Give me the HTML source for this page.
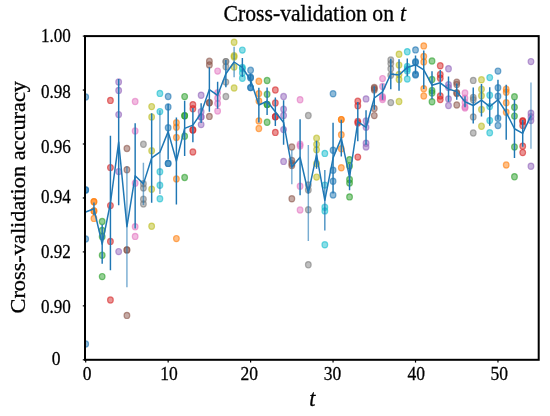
<!DOCTYPE html><html><head><meta charset="utf-8"><style>html,body{margin:0;padding:0;background:#fff;width:550px;height:416px;overflow:hidden}svg{display:block}text{font-family:"Liberation Serif","Times New Roman",serif;fill:#000}</style></head><body>
<svg width="550" height="416" viewBox="0 0 550 416">
<rect width="550" height="416" fill="#fff"/>
<defs><clipPath id="ax"><rect x="85.0" y="36.1" width="453.70000000000005" height="323.7"/></clipPath><clipPath id="ax2"><rect x="86.5" y="36.1" width="452.20000000000005" height="323.7"/></clipPath></defs>
<g clip-path="url(#ax)" fill-opacity="0.5" stroke-opacity="0.6" stroke-width="1.2"><g fill="#1f77b4" stroke="#1f77b4"><ellipse cx="85.69" cy="97.00" rx="2.85" ry="3.1"/><ellipse cx="85.69" cy="190.00" rx="2.85" ry="3.1"/><ellipse cx="85.69" cy="190.00" rx="2.85" ry="3.1"/><ellipse cx="85.69" cy="239.00" rx="2.85" ry="3.1"/><ellipse cx="85.69" cy="344.00" rx="2.85" ry="3.1"/></g><g fill="#ff7f0e" stroke="#ff7f0e"><ellipse cx="93.94" cy="201.70" rx="2.85" ry="3.1"/><ellipse cx="93.94" cy="201.70" rx="2.85" ry="3.1"/><ellipse cx="93.94" cy="211.00" rx="2.85" ry="3.1"/><ellipse cx="93.94" cy="211.00" rx="2.85" ry="3.1"/><ellipse cx="93.94" cy="218.40" rx="2.85" ry="3.1"/></g><g fill="#2ca02c" stroke="#2ca02c"><ellipse cx="102.18" cy="221.50" rx="2.85" ry="3.1"/><ellipse cx="102.18" cy="230.40" rx="2.85" ry="3.1"/><ellipse cx="102.18" cy="236.80" rx="2.85" ry="3.1"/><ellipse cx="102.18" cy="255.30" rx="2.85" ry="3.1"/><ellipse cx="102.18" cy="276.60" rx="2.85" ry="3.1"/></g><g fill="#d62728" stroke="#d62728"><ellipse cx="110.43" cy="100.40" rx="2.85" ry="3.1"/><ellipse cx="110.43" cy="167.60" rx="2.85" ry="3.1"/><ellipse cx="110.43" cy="205.60" rx="2.85" ry="3.1"/><ellipse cx="110.43" cy="241.40" rx="2.85" ry="3.1"/><ellipse cx="110.43" cy="300.00" rx="2.85" ry="3.1"/></g><g fill="#9467bd" stroke="#9467bd"><ellipse cx="118.67" cy="82.00" rx="2.85" ry="3.1"/><ellipse cx="118.67" cy="90.40" rx="2.85" ry="3.1"/><ellipse cx="118.67" cy="114.60" rx="2.85" ry="3.1"/><ellipse cx="118.67" cy="171.60" rx="2.85" ry="3.1"/><ellipse cx="118.67" cy="251.60" rx="2.85" ry="3.1"/></g><g fill="#8c564b" stroke="#8c564b"><ellipse cx="126.92" cy="148.50" rx="2.85" ry="3.1"/><ellipse cx="126.92" cy="169.70" rx="2.85" ry="3.1"/><ellipse cx="126.92" cy="249.90" rx="2.85" ry="3.1"/><ellipse cx="126.92" cy="249.90" rx="2.85" ry="3.1"/><ellipse cx="126.92" cy="315.40" rx="2.85" ry="3.1"/></g><g fill="#e377c2" stroke="#e377c2"><ellipse cx="135.16" cy="101.50" rx="2.85" ry="3.1"/><ellipse cx="135.16" cy="131.00" rx="2.85" ry="3.1"/><ellipse cx="135.16" cy="183.20" rx="2.85" ry="3.1"/><ellipse cx="135.16" cy="226.70" rx="2.85" ry="3.1"/><ellipse cx="135.16" cy="236.40" rx="2.85" ry="3.1"/></g><g fill="#7f7f7f" stroke="#7f7f7f"><ellipse cx="143.41" cy="144.30" rx="2.85" ry="3.1"/><ellipse cx="143.41" cy="183.80" rx="2.85" ry="3.1"/><ellipse cx="143.41" cy="188.00" rx="2.85" ry="3.1"/><ellipse cx="143.41" cy="199.30" rx="2.85" ry="3.1"/><ellipse cx="143.41" cy="204.00" rx="2.85" ry="3.1"/></g><g fill="#bcbd22" stroke="#bcbd22"><ellipse cx="151.66" cy="106.60" rx="2.85" ry="3.1"/><ellipse cx="151.66" cy="117.00" rx="2.85" ry="3.1"/><ellipse cx="151.66" cy="150.80" rx="2.85" ry="3.1"/><ellipse cx="151.66" cy="189.20" rx="2.85" ry="3.1"/><ellipse cx="151.66" cy="226.20" rx="2.85" ry="3.1"/></g><g fill="#17becf" stroke="#17becf"><ellipse cx="159.90" cy="93.40" rx="2.85" ry="3.1"/><ellipse cx="159.90" cy="111.60" rx="2.85" ry="3.1"/><ellipse cx="159.90" cy="171.80" rx="2.85" ry="3.1"/><ellipse cx="159.90" cy="185.30" rx="2.85" ry="3.1"/><ellipse cx="159.90" cy="198.80" rx="2.85" ry="3.1"/></g><g fill="#1f77b4" stroke="#1f77b4"><ellipse cx="168.15" cy="96.50" rx="2.85" ry="3.1"/><ellipse cx="168.15" cy="107.00" rx="2.85" ry="3.1"/><ellipse cx="168.15" cy="127.80" rx="2.85" ry="3.1"/><ellipse cx="168.15" cy="163.40" rx="2.85" ry="3.1"/><ellipse cx="168.15" cy="163.40" rx="2.85" ry="3.1"/></g><g fill="#ff7f0e" stroke="#ff7f0e"><ellipse cx="176.39" cy="122.80" rx="2.85" ry="3.1"/><ellipse cx="176.39" cy="127.30" rx="2.85" ry="3.1"/><ellipse cx="176.39" cy="137.50" rx="2.85" ry="3.1"/><ellipse cx="176.39" cy="179.00" rx="2.85" ry="3.1"/><ellipse cx="176.39" cy="238.60" rx="2.85" ry="3.1"/></g><g fill="#2ca02c" stroke="#2ca02c"><ellipse cx="184.64" cy="96.60" rx="2.85" ry="3.1"/><ellipse cx="184.64" cy="115.80" rx="2.85" ry="3.1"/><ellipse cx="184.64" cy="115.80" rx="2.85" ry="3.1"/><ellipse cx="184.64" cy="136.20" rx="2.85" ry="3.1"/><ellipse cx="184.64" cy="177.50" rx="2.85" ry="3.1"/></g><g fill="#d62728" stroke="#d62728"><ellipse cx="192.88" cy="104.70" rx="2.85" ry="3.1"/><ellipse cx="192.88" cy="108.80" rx="2.85" ry="3.1"/><ellipse cx="192.88" cy="130.00" rx="2.85" ry="3.1"/><ellipse cx="192.88" cy="130.00" rx="2.85" ry="3.1"/><ellipse cx="192.88" cy="152.00" rx="2.85" ry="3.1"/></g><g fill="#9467bd" stroke="#9467bd"><ellipse cx="201.13" cy="95.20" rx="2.85" ry="3.1"/><ellipse cx="201.13" cy="111.80" rx="2.85" ry="3.1"/><ellipse cx="201.13" cy="117.00" rx="2.85" ry="3.1"/><ellipse cx="201.13" cy="117.00" rx="2.85" ry="3.1"/><ellipse cx="201.13" cy="124.60" rx="2.85" ry="3.1"/></g><g fill="#8c564b" stroke="#8c564b"><ellipse cx="209.38" cy="61.30" rx="2.85" ry="3.1"/><ellipse cx="209.38" cy="64.90" rx="2.85" ry="3.1"/><ellipse cx="209.38" cy="102.70" rx="2.85" ry="3.1"/><ellipse cx="209.38" cy="102.70" rx="2.85" ry="3.1"/><ellipse cx="209.38" cy="116.40" rx="2.85" ry="3.1"/></g><g fill="#e377c2" stroke="#e377c2"><ellipse cx="217.62" cy="71.10" rx="2.85" ry="3.1"/><ellipse cx="217.62" cy="92.80" rx="2.85" ry="3.1"/><ellipse cx="217.62" cy="98.20" rx="2.85" ry="3.1"/><ellipse cx="217.62" cy="103.40" rx="2.85" ry="3.1"/><ellipse cx="217.62" cy="111.00" rx="2.85" ry="3.1"/></g><g fill="#7f7f7f" stroke="#7f7f7f"><ellipse cx="225.87" cy="61.60" rx="2.85" ry="3.1"/><ellipse cx="225.87" cy="61.60" rx="2.85" ry="3.1"/><ellipse cx="225.87" cy="66.70" rx="2.85" ry="3.1"/><ellipse cx="225.87" cy="82.10" rx="2.85" ry="3.1"/><ellipse cx="225.87" cy="96.50" rx="2.85" ry="3.1"/></g><g fill="#bcbd22" stroke="#bcbd22"><ellipse cx="234.11" cy="42.20" rx="2.85" ry="3.1"/><ellipse cx="234.11" cy="55.80" rx="2.85" ry="3.1"/><ellipse cx="234.11" cy="57.00" rx="2.85" ry="3.1"/><ellipse cx="234.11" cy="67.00" rx="2.85" ry="3.1"/><ellipse cx="234.11" cy="88.00" rx="2.85" ry="3.1"/></g><g fill="#17becf" stroke="#17becf"><ellipse cx="242.36" cy="50.10" rx="2.85" ry="3.1"/><ellipse cx="242.36" cy="67.50" rx="2.85" ry="3.1"/><ellipse cx="242.36" cy="68.70" rx="2.85" ry="3.1"/><ellipse cx="242.36" cy="72.90" rx="2.85" ry="3.1"/><ellipse cx="242.36" cy="78.30" rx="2.85" ry="3.1"/></g><g fill="#1f77b4" stroke="#1f77b4"><ellipse cx="250.60" cy="70.30" rx="2.85" ry="3.1"/><ellipse cx="250.60" cy="77.20" rx="2.85" ry="3.1"/><ellipse cx="250.60" cy="78.00" rx="2.85" ry="3.1"/><ellipse cx="250.60" cy="87.60" rx="2.85" ry="3.1"/><ellipse cx="250.60" cy="87.60" rx="2.85" ry="3.1"/></g><g fill="#ff7f0e" stroke="#ff7f0e"><ellipse cx="258.85" cy="81.30" rx="2.85" ry="3.1"/><ellipse cx="258.85" cy="93.60" rx="2.85" ry="3.1"/><ellipse cx="258.85" cy="100.90" rx="2.85" ry="3.1"/><ellipse cx="258.85" cy="120.90" rx="2.85" ry="3.1"/><ellipse cx="258.85" cy="128.50" rx="2.85" ry="3.1"/></g><g fill="#2ca02c" stroke="#2ca02c"><ellipse cx="267.10" cy="80.50" rx="2.85" ry="3.1"/><ellipse cx="267.10" cy="94.30" rx="2.85" ry="3.1"/><ellipse cx="267.10" cy="104.50" rx="2.85" ry="3.1"/><ellipse cx="267.10" cy="104.50" rx="2.85" ry="3.1"/><ellipse cx="267.10" cy="122.30" rx="2.85" ry="3.1"/></g><g fill="#d62728" stroke="#d62728"><ellipse cx="275.34" cy="90.00" rx="2.85" ry="3.1"/><ellipse cx="275.34" cy="103.00" rx="2.85" ry="3.1"/><ellipse cx="275.34" cy="116.70" rx="2.85" ry="3.1"/><ellipse cx="275.34" cy="116.70" rx="2.85" ry="3.1"/><ellipse cx="275.34" cy="132.40" rx="2.85" ry="3.1"/></g><g fill="#9467bd" stroke="#9467bd"><ellipse cx="283.59" cy="96.50" rx="2.85" ry="3.1"/><ellipse cx="283.59" cy="109.30" rx="2.85" ry="3.1"/><ellipse cx="283.59" cy="115.40" rx="2.85" ry="3.1"/><ellipse cx="283.59" cy="129.60" rx="2.85" ry="3.1"/><ellipse cx="283.59" cy="161.40" rx="2.85" ry="3.1"/></g><g fill="#8c564b" stroke="#8c564b"><ellipse cx="291.83" cy="147.00" rx="2.85" ry="3.1"/><ellipse cx="291.83" cy="160.50" rx="2.85" ry="3.1"/><ellipse cx="291.83" cy="163.50" rx="2.85" ry="3.1"/><ellipse cx="291.83" cy="165.50" rx="2.85" ry="3.1"/><ellipse cx="291.83" cy="198.80" rx="2.85" ry="3.1"/></g><g fill="#e377c2" stroke="#e377c2"><ellipse cx="300.08" cy="99.70" rx="2.85" ry="3.1"/><ellipse cx="300.08" cy="144.30" rx="2.85" ry="3.1"/><ellipse cx="300.08" cy="146.00" rx="2.85" ry="3.1"/><ellipse cx="300.08" cy="186.20" rx="2.85" ry="3.1"/><ellipse cx="300.08" cy="210.00" rx="2.85" ry="3.1"/></g><g fill="#7f7f7f" stroke="#7f7f7f"><ellipse cx="308.32" cy="115.50" rx="2.85" ry="3.1"/><ellipse cx="308.32" cy="185.00" rx="2.85" ry="3.1"/><ellipse cx="308.32" cy="190.00" rx="2.85" ry="3.1"/><ellipse cx="308.32" cy="209.80" rx="2.85" ry="3.1"/><ellipse cx="308.32" cy="264.70" rx="2.85" ry="3.1"/></g><g fill="#bcbd22" stroke="#bcbd22"><ellipse cx="316.57" cy="138.30" rx="2.85" ry="3.1"/><ellipse cx="316.57" cy="144.40" rx="2.85" ry="3.1"/><ellipse cx="316.57" cy="149.80" rx="2.85" ry="3.1"/><ellipse cx="316.57" cy="163.60" rx="2.85" ry="3.1"/><ellipse cx="316.57" cy="177.10" rx="2.85" ry="3.1"/></g><g fill="#17becf" stroke="#17becf"><ellipse cx="324.82" cy="153.40" rx="2.85" ry="3.1"/><ellipse cx="324.82" cy="185.10" rx="2.85" ry="3.1"/><ellipse cx="324.82" cy="207.30" rx="2.85" ry="3.1"/><ellipse cx="324.82" cy="210.90" rx="2.85" ry="3.1"/><ellipse cx="324.82" cy="244.80" rx="2.85" ry="3.1"/></g><g fill="#1f77b4" stroke="#1f77b4"><ellipse cx="333.06" cy="93.80" rx="2.85" ry="3.1"/><ellipse cx="333.06" cy="150.20" rx="2.85" ry="3.1"/><ellipse cx="333.06" cy="170.20" rx="2.85" ry="3.1"/><ellipse cx="333.06" cy="181.20" rx="2.85" ry="3.1"/><ellipse cx="333.06" cy="195.00" rx="2.85" ry="3.1"/></g><g fill="#ff7f0e" stroke="#ff7f0e"><ellipse cx="341.31" cy="119.60" rx="2.85" ry="3.1"/><ellipse cx="341.31" cy="119.60" rx="2.85" ry="3.1"/><ellipse cx="341.31" cy="134.70" rx="2.85" ry="3.1"/><ellipse cx="341.31" cy="148.80" rx="2.85" ry="3.1"/><ellipse cx="341.31" cy="167.80" rx="2.85" ry="3.1"/></g><g fill="#2ca02c" stroke="#2ca02c"><ellipse cx="349.55" cy="159.70" rx="2.85" ry="3.1"/><ellipse cx="349.55" cy="166.00" rx="2.85" ry="3.1"/><ellipse cx="349.55" cy="179.50" rx="2.85" ry="3.1"/><ellipse cx="349.55" cy="183.10" rx="2.85" ry="3.1"/><ellipse cx="349.55" cy="196.90" rx="2.85" ry="3.1"/></g><g fill="#d62728" stroke="#d62728"><ellipse cx="357.80" cy="101.30" rx="2.85" ry="3.1"/><ellipse cx="357.80" cy="105.80" rx="2.85" ry="3.1"/><ellipse cx="357.80" cy="121.50" rx="2.85" ry="3.1"/><ellipse cx="357.80" cy="123.00" rx="2.85" ry="3.1"/><ellipse cx="357.80" cy="157.10" rx="2.85" ry="3.1"/></g><g fill="#9467bd" stroke="#9467bd"><ellipse cx="366.04" cy="98.90" rx="2.85" ry="3.1"/><ellipse cx="366.04" cy="121.00" rx="2.85" ry="3.1"/><ellipse cx="366.04" cy="127.30" rx="2.85" ry="3.1"/><ellipse cx="366.04" cy="143.20" rx="2.85" ry="3.1"/><ellipse cx="366.04" cy="147.00" rx="2.85" ry="3.1"/></g><g fill="#8c564b" stroke="#8c564b"><ellipse cx="374.29" cy="87.50" rx="2.85" ry="3.1"/><ellipse cx="374.29" cy="88.50" rx="2.85" ry="3.1"/><ellipse cx="374.29" cy="90.00" rx="2.85" ry="3.1"/><ellipse cx="374.29" cy="108.40" rx="2.85" ry="3.1"/><ellipse cx="374.29" cy="115.60" rx="2.85" ry="3.1"/></g><g fill="#e377c2" stroke="#e377c2"><ellipse cx="382.54" cy="78.60" rx="2.85" ry="3.1"/><ellipse cx="382.54" cy="86.50" rx="2.85" ry="3.1"/><ellipse cx="382.54" cy="96.80" rx="2.85" ry="3.1"/><ellipse cx="382.54" cy="97.80" rx="2.85" ry="3.1"/><ellipse cx="382.54" cy="99.50" rx="2.85" ry="3.1"/></g><g fill="#7f7f7f" stroke="#7f7f7f"><ellipse cx="390.78" cy="60.00" rx="2.85" ry="3.1"/><ellipse cx="390.78" cy="63.60" rx="2.85" ry="3.1"/><ellipse cx="390.78" cy="68.70" rx="2.85" ry="3.1"/><ellipse cx="390.78" cy="75.30" rx="2.85" ry="3.1"/><ellipse cx="390.78" cy="102.60" rx="2.85" ry="3.1"/></g><g fill="#bcbd22" stroke="#bcbd22"><ellipse cx="399.03" cy="54.20" rx="2.85" ry="3.1"/><ellipse cx="399.03" cy="65.10" rx="2.85" ry="3.1"/><ellipse cx="399.03" cy="74.50" rx="2.85" ry="3.1"/><ellipse cx="399.03" cy="79.50" rx="2.85" ry="3.1"/><ellipse cx="399.03" cy="101.50" rx="2.85" ry="3.1"/></g><g fill="#17becf" stroke="#17becf"><ellipse cx="407.27" cy="51.70" rx="2.85" ry="3.1"/><ellipse cx="407.27" cy="66.50" rx="2.85" ry="3.1"/><ellipse cx="407.27" cy="69.00" rx="2.85" ry="3.1"/><ellipse cx="407.27" cy="70.90" rx="2.85" ry="3.1"/><ellipse cx="407.27" cy="79.00" rx="2.85" ry="3.1"/></g><g fill="#1f77b4" stroke="#1f77b4"><ellipse cx="415.52" cy="49.90" rx="2.85" ry="3.1"/><ellipse cx="415.52" cy="61.80" rx="2.85" ry="3.1"/><ellipse cx="415.52" cy="62.50" rx="2.85" ry="3.1"/><ellipse cx="415.52" cy="74.30" rx="2.85" ry="3.1"/><ellipse cx="415.52" cy="75.00" rx="2.85" ry="3.1"/></g><g fill="#ff7f0e" stroke="#ff7f0e"><ellipse cx="423.76" cy="45.90" rx="2.85" ry="3.1"/><ellipse cx="423.76" cy="56.40" rx="2.85" ry="3.1"/><ellipse cx="423.76" cy="61.90" rx="2.85" ry="3.1"/><ellipse cx="423.76" cy="88.70" rx="2.85" ry="3.1"/><ellipse cx="423.76" cy="96.00" rx="2.85" ry="3.1"/></g><g fill="#2ca02c" stroke="#2ca02c"><ellipse cx="432.01" cy="61.00" rx="2.85" ry="3.1"/><ellipse cx="432.01" cy="79.50" rx="2.85" ry="3.1"/><ellipse cx="432.01" cy="90.50" rx="2.85" ry="3.1"/><ellipse cx="432.01" cy="93.00" rx="2.85" ry="3.1"/><ellipse cx="432.01" cy="101.80" rx="2.85" ry="3.1"/></g><g fill="#d62728" stroke="#d62728"><ellipse cx="440.26" cy="65.80" rx="2.85" ry="3.1"/><ellipse cx="440.26" cy="74.50" rx="2.85" ry="3.1"/><ellipse cx="440.26" cy="78.20" rx="2.85" ry="3.1"/><ellipse cx="440.26" cy="96.00" rx="2.85" ry="3.1"/><ellipse cx="440.26" cy="99.50" rx="2.85" ry="3.1"/></g><g fill="#9467bd" stroke="#9467bd"><ellipse cx="448.50" cy="68.70" rx="2.85" ry="3.1"/><ellipse cx="448.50" cy="84.70" rx="2.85" ry="3.1"/><ellipse cx="448.50" cy="87.60" rx="2.85" ry="3.1"/><ellipse cx="448.50" cy="98.90" rx="2.85" ry="3.1"/><ellipse cx="448.50" cy="105.50" rx="2.85" ry="3.1"/></g><g fill="#8c564b" stroke="#8c564b"><ellipse cx="456.75" cy="82.30" rx="2.85" ry="3.1"/><ellipse cx="456.75" cy="84.50" rx="2.85" ry="3.1"/><ellipse cx="456.75" cy="92.80" rx="2.85" ry="3.1"/><ellipse cx="456.75" cy="93.50" rx="2.85" ry="3.1"/><ellipse cx="456.75" cy="105.00" rx="2.85" ry="3.1"/></g><g fill="#e377c2" stroke="#e377c2"><ellipse cx="464.99" cy="93.00" rx="2.85" ry="3.1"/><ellipse cx="464.99" cy="98.20" rx="2.85" ry="3.1"/><ellipse cx="464.99" cy="102.50" rx="2.85" ry="3.1"/><ellipse cx="464.99" cy="106.90" rx="2.85" ry="3.1"/><ellipse cx="464.99" cy="108.00" rx="2.85" ry="3.1"/></g><g fill="#7f7f7f" stroke="#7f7f7f"><ellipse cx="473.24" cy="80.40" rx="2.85" ry="3.1"/><ellipse cx="473.24" cy="97.40" rx="2.85" ry="3.1"/><ellipse cx="473.24" cy="99.80" rx="2.85" ry="3.1"/><ellipse cx="473.24" cy="116.90" rx="2.85" ry="3.1"/><ellipse cx="473.24" cy="133.00" rx="2.85" ry="3.1"/></g><g fill="#bcbd22" stroke="#bcbd22"><ellipse cx="481.48" cy="79.80" rx="2.85" ry="3.1"/><ellipse cx="481.48" cy="89.30" rx="2.85" ry="3.1"/><ellipse cx="481.48" cy="95.80" rx="2.85" ry="3.1"/><ellipse cx="481.48" cy="109.50" rx="2.85" ry="3.1"/><ellipse cx="481.48" cy="126.30" rx="2.85" ry="3.1"/></g><g fill="#17becf" stroke="#17becf"><ellipse cx="489.73" cy="77.60" rx="2.85" ry="3.1"/><ellipse cx="489.73" cy="95.30" rx="2.85" ry="3.1"/><ellipse cx="489.73" cy="106.60" rx="2.85" ry="3.1"/><ellipse cx="489.73" cy="120.50" rx="2.85" ry="3.1"/><ellipse cx="489.73" cy="132.80" rx="2.85" ry="3.1"/></g><g fill="#1f77b4" stroke="#1f77b4"><ellipse cx="497.97" cy="71.10" rx="2.85" ry="3.1"/><ellipse cx="497.97" cy="87.80" rx="2.85" ry="3.1"/><ellipse cx="497.97" cy="96.20" rx="2.85" ry="3.1"/><ellipse cx="497.97" cy="118.30" rx="2.85" ry="3.1"/><ellipse cx="497.97" cy="125.50" rx="2.85" ry="3.1"/></g><g fill="#ff7f0e" stroke="#ff7f0e"><ellipse cx="506.22" cy="89.30" rx="2.85" ry="3.1"/><ellipse cx="506.22" cy="92.20" rx="2.85" ry="3.1"/><ellipse cx="506.22" cy="102.80" rx="2.85" ry="3.1"/><ellipse cx="506.22" cy="112.20" rx="2.85" ry="3.1"/><ellipse cx="506.22" cy="165.00" rx="2.85" ry="3.1"/></g><g fill="#2ca02c" stroke="#2ca02c"><ellipse cx="514.47" cy="96.80" rx="2.85" ry="3.1"/><ellipse cx="514.47" cy="107.20" rx="2.85" ry="3.1"/><ellipse cx="514.47" cy="116.10" rx="2.85" ry="3.1"/><ellipse cx="514.47" cy="147.00" rx="2.85" ry="3.1"/><ellipse cx="514.47" cy="176.70" rx="2.85" ry="3.1"/></g><g fill="#d62728" stroke="#d62728"><ellipse cx="522.71" cy="120.80" rx="2.85" ry="3.1"/><ellipse cx="522.71" cy="121.40" rx="2.85" ry="3.1"/><ellipse cx="522.71" cy="125.50" rx="2.85" ry="3.1"/><ellipse cx="522.71" cy="146.20" rx="2.85" ry="3.1"/><ellipse cx="522.71" cy="152.60" rx="2.85" ry="3.1"/></g><g fill="#9467bd" stroke="#9467bd"><ellipse cx="530.96" cy="61.60" rx="2.85" ry="3.1"/><ellipse cx="530.96" cy="113.20" rx="2.85" ry="3.1"/><ellipse cx="530.96" cy="116.80" rx="2.85" ry="3.1"/><ellipse cx="530.96" cy="120.50" rx="2.85" ry="3.1"/><ellipse cx="530.96" cy="166.20" rx="2.85" ry="3.1"/></g></g>
<g clip-path="url(#ax2)" stroke="#1f77b4" stroke-width="1.45" fill="none"><line x1="93.94" y1="202.39" x2="93.94" y2="215.13"/><line x1="102.18" y1="224.46" x2="102.18" y2="263.78"/><line x1="110.43" y1="135.66" x2="110.43" y2="270.34"/><line x1="118.67" y1="78.95" x2="118.67" y2="205.13"/><line x1="126.92" y1="166.17" x2="126.92" y2="287.19" stroke-opacity="0.6"/><line x1="135.16" y1="123.14" x2="135.16" y2="228.38"/><line x1="143.41" y1="162.78" x2="143.41" y2="204.98" stroke-opacity="0.6"/><line x1="151.66" y1="113.24" x2="151.66" y2="202.68"/><line x1="159.90" y1="110.33" x2="159.90" y2="194.03" stroke-opacity="0.6"/><line x1="168.15" y1="103.78" x2="168.15" y2="159.46"/><line x1="176.39" y1="117.47" x2="176.39" y2="204.61"/><line x1="184.64" y1="100.81" x2="184.64" y2="155.95"/><line x1="192.88" y1="108.05" x2="192.88" y2="142.15"/><line x1="201.13" y1="103.27" x2="201.13" y2="122.97"/><line x1="209.38" y1="67.36" x2="209.38" y2="111.84"/><line x1="217.62" y1="81.79" x2="217.62" y2="108.81"/><line x1="225.87" y1="60.05" x2="225.87" y2="87.35"/><line x1="234.11" y1="46.79" x2="234.11" y2="77.21" stroke-opacity="0.65"/><line x1="242.36" y1="58.01" x2="242.36" y2="76.99"/><line x1="250.60" y1="73.49" x2="250.60" y2="86.79"/><line x1="258.85" y1="87.64" x2="258.85" y2="122.44"/><line x1="267.10" y1="87.49" x2="267.10" y2="114.95"/><line x1="275.34" y1="97.44" x2="275.34" y2="126.08"/><line x1="283.59" y1="100.24" x2="283.59" y2="144.64"/><line x1="291.83" y1="149.93" x2="291.83" y2="184.19" stroke-opacity="0.6"/><line x1="300.08" y1="119.22" x2="300.08" y2="195.26"/><line x1="308.32" y1="145.04" x2="308.32" y2="240.96" stroke-opacity="0.6"/><line x1="316.57" y1="140.64" x2="316.57" y2="168.64"/><line x1="324.82" y1="170.06" x2="324.82" y2="230.54" stroke-opacity="0.8"/><line x1="333.06" y1="122.76" x2="333.06" y2="193.40"/><line x1="341.31" y1="119.70" x2="341.31" y2="156.50"/><line x1="349.55" y1="163.93" x2="349.55" y2="190.15"/><line x1="357.80" y1="102.12" x2="357.80" y2="141.36"/><line x1="366.04" y1="110.23" x2="366.04" y2="144.73"/><line x1="374.29" y1="86.32" x2="374.29" y2="109.68"/><line x1="382.54" y1="83.81" x2="382.54" y2="99.87" stroke-opacity="0.85"/><line x1="390.78" y1="58.86" x2="390.78" y2="89.22"/><line x1="399.03" y1="59.13" x2="399.03" y2="90.79"/><line x1="407.27" y1="58.51" x2="407.27" y2="76.33"/><line x1="415.52" y1="55.42" x2="415.52" y2="73.98"/><line x1="423.76" y1="50.51" x2="423.76" y2="89.05"/><line x1="432.01" y1="71.14" x2="432.01" y2="99.18"/><line x1="440.26" y1="69.90" x2="440.26" y2="95.70"/><line x1="448.50" y1="76.41" x2="448.50" y2="101.75"/><line x1="456.75" y1="83.60" x2="456.75" y2="99.64"/><line x1="464.99" y1="96.15" x2="464.99" y2="107.29"/><line x1="473.24" y1="87.53" x2="473.24" y2="123.47"/><line x1="481.48" y1="83.88" x2="481.48" y2="116.40"/><line x1="489.73" y1="87.33" x2="489.73" y2="125.79"/><line x1="497.97" y1="79.86" x2="497.97" y2="119.70"/><line x1="506.22" y1="84.73" x2="506.22" y2="139.87"/><line x1="514.47" y1="99.51" x2="514.47" y2="158.01"/><line x1="522.71" y1="119.90" x2="522.71" y2="146.70"/><line x1="530.96" y1="82.47" x2="530.96" y2="148.85" stroke-opacity="0.55"/></g>
<polyline clip-path="url(#ax)" points="85.69,212.00 93.94,208.76 102.18,244.12 110.43,203.00 118.67,142.04 126.92,226.68 135.16,175.76 143.41,183.88 151.66,157.96 159.90,152.18 168.15,131.62 176.39,161.04 184.64,128.38 192.88,125.10 201.13,113.12 209.38,89.60 217.62,95.30 225.87,73.70 234.11,62.00 242.36,67.50 250.60,80.14 258.85,105.04 267.10,101.22 275.34,111.76 283.59,122.44 291.83,167.06 300.08,157.24 308.32,193.00 316.57,154.64 324.82,200.30 333.06,158.08 341.31,138.10 349.55,177.04 357.80,121.74 366.04,127.48 374.29,98.00 382.54,91.84 390.78,74.04 399.03,74.96 407.27,67.42 415.52,64.70 423.76,69.78 432.01,85.16 440.26,82.80 448.50,89.08 456.75,91.62 464.99,101.72 473.24,105.50 481.48,100.14 489.73,106.56 497.97,99.78 506.22,112.30 514.47,128.76 522.71,133.30 530.96,115.66" fill="none" stroke="#1f77b4" stroke-width="1.5" stroke-linejoin="round"/>
<g stroke="#000" stroke-width="1.2"><line x1="85.69" y1="359.8" x2="85.69" y2="362.6"/><line x1="168.15" y1="359.8" x2="168.15" y2="362.6"/><line x1="250.60" y1="359.8" x2="250.60" y2="362.6"/><line x1="333.06" y1="359.8" x2="333.06" y2="362.6"/><line x1="415.52" y1="359.8" x2="415.52" y2="362.6"/><line x1="497.97" y1="359.8" x2="497.97" y2="362.6"/><line x1="82.8" y1="36.10" x2="85.0" y2="36.10"/><line x1="82.8" y1="90.05" x2="85.0" y2="90.05"/><line x1="82.8" y1="144.00" x2="85.0" y2="144.00"/><line x1="82.8" y1="197.95" x2="85.0" y2="197.95"/><line x1="82.8" y1="251.90" x2="85.0" y2="251.90"/><line x1="82.8" y1="305.85" x2="85.0" y2="305.85"/><line x1="82.8" y1="359.80" x2="85.0" y2="359.80"/></g>
<rect x="85.0" y="36.1" width="453.70000000000005" height="323.7" fill="none" stroke="#000" stroke-width="2.0"/>
<g font-size="17.5" stroke="#000" stroke-width="0.25"><text transform="translate(87.19,380.2) scale(1,1.075)" text-anchor="middle">0</text><text transform="translate(168.90,380.2) scale(1,1.075)" text-anchor="middle">10</text><text transform="translate(249.30,380.2) scale(1,1.075)" text-anchor="middle">20</text><text transform="translate(332.51,380.2) scale(1,1.075)" text-anchor="middle">30</text><text transform="translate(416.32,380.2) scale(1,1.075)" text-anchor="middle">40</text><text transform="translate(499.18,380.2) scale(1,1.075)" text-anchor="middle">50</text><text transform="translate(70.7,41.75) scale(0.975,1.075)" text-anchor="end">1.00</text><text transform="translate(70.7,97.55) scale(0.975,1.075)" text-anchor="end">0.98</text><text transform="translate(70.7,152.55) scale(0.975,1.075)" text-anchor="end">0.96</text><text transform="translate(70.7,203.30) scale(0.975,1.075)" text-anchor="end">0.94</text><text transform="translate(70.7,258.00) scale(0.975,1.075)" text-anchor="end">0.92</text><text transform="translate(70.7,313.45) scale(0.975,1.075)" text-anchor="end">0.90</text><text transform="translate(56,364.60) scale(1,1.075)" text-anchor="middle">0</text></g>
<text transform="translate(223.5,20.8) scale(1,1.075)" font-size="21.7" stroke="#000" stroke-width="0.3">Cross-validation on</text>
<text transform="translate(400.0,20.8) scale(1,1.075)" font-size="21.7" font-style="italic" stroke="#000" stroke-width="0.3">t</text>
<text transform="translate(24.7,197.25) scale(1,1.064) rotate(-90)" font-size="21" stroke="#000" stroke-width="0.3" text-anchor="middle">Cross-validation accuracy</text>
<text transform="translate(312.2,406) scale(1,1.075)" font-size="22" font-style="italic" stroke="#000" stroke-width="0.3" text-anchor="middle">t</text>
</svg></body></html>
